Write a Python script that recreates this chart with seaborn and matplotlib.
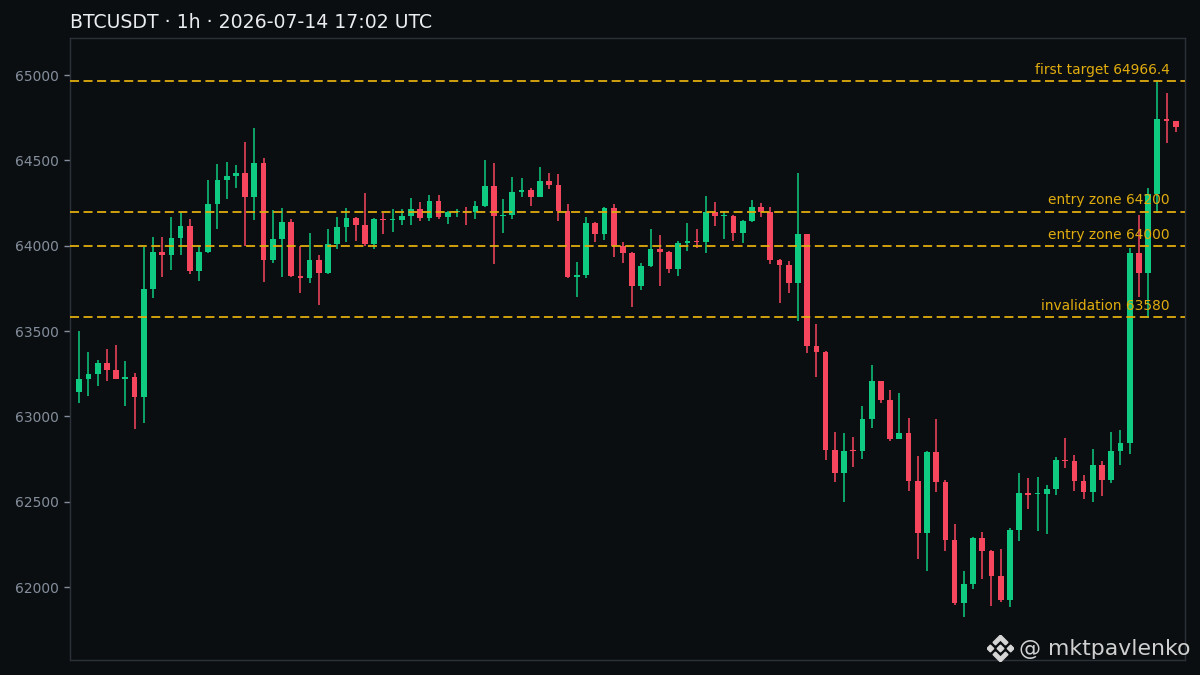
import numpy as np
import pandas as pd
import matplotlib
matplotlib.use("Agg")
import matplotlib.pyplot as plt
import seaborn as sns
from matplotlib.patches import Polygon

# hourly candles
opens = [63145, 63219, 63248, 63313, 63274, 63221, 63230, 63115, 63746, 63963,
         63947, 64045, 64115, 63853, 63963, 64244, 64385, 64408, 64426, 64285,
         64484, 63916, 64039, 64139, 63822, 63812, 63916, 63842, 64010, 64109,
         64162, 64121, 64012, 64156, 64150, 64150, 64174, 64215, 64162, 64262,
         64168, 64195, 64201, 64197, 64232, 64350, 64174, 64180, 64315, 64326,
         64287, 64379, 64357, 64203, 63818, 63828, 64133, 64070, 64221, 63998,
         63959, 63766, 63881, 63981, 63965, 63863, 64018, 64027, 64023, 64199,
         64174, 64176, 64076, 64145, 64227, 64199, 63918, 63889, 63783, 64068,
         63414, 63379, 62803, 62670, 62800, 62797, 62985, 63207, 63096, 62867,
         62903, 62623, 62319, 62791, 62617, 62276, 61908, 62018, 62287, 62213,
         62067, 61924, 62334, 62551, 62545, 62547, 62574, 62746, 62739, 62621,
         62559, 62715, 62629, 62797, 62846, 63959, 63842, 64303, 64740, 64730]
highs = [63498, 63375, 63330, 63393, 63416, 63322, 63252, 63994, 64049, 64049,
         64170, 64197, 64158, 64004, 64387, 64477, 64492, 64475, 64605, 64687,
         64512, 64209, 64219, 64156, 63998, 64072, 63943, 64096, 64166, 64219,
         64166, 64307, 64162, 64190, 64213, 64217, 64277, 64254, 64295, 64295,
         64201, 64213, 64225, 64262, 64500, 64483, 64272, 64400, 64395, 64336,
         64459, 64424, 64420, 64242, 63906, 64170, 64140, 64225, 64242, 64020,
         63961, 63900, 64096, 64061, 63968, 64025, 64131, 64096, 64289, 64258,
         64205, 64180, 64150, 64266, 64248, 64229, 63922, 63912, 64424, 64070,
         63539, 63381, 62906, 62901, 62877, 63063, 63299, 63210, 63152, 63135,
         62988, 62766, 62795, 62983, 62625, 62369, 62096, 62291, 62321, 62217,
         62221, 62344, 62666, 62637, 62643, 62600, 62764, 62871, 62772, 62655,
         62807, 62737, 62906, 62918, 63984, 64180, 64340, 64965, 64893, 64733]
lows = [63076, 63117, 63176, 63205, 63217, 63059, 62924, 62959, 63691, 63818,
        63857, 63943, 63832, 63795, 63959, 64096, 64271, 64336, 63998, 64150,
        63789, 63896, 63818, 63818, 63725, 63779, 63650, 63832, 63978, 64019,
        64025, 63998, 63979, 64067, 64078, 64119, 64119, 64147, 64147, 64154,
        64125, 64166, 64123, 64154, 64229, 63891, 64076, 64158, 64283, 64231,
        64283, 64334, 64143, 63813, 63697, 63809, 64023, 64033, 63936, 63897,
        63639, 63740, 63877, 63764, 63838, 63820, 63967, 63984, 63955, 64113,
        64037, 64025, 64014, 64139, 64170, 63891, 63662, 63721, 63561, 63373,
        63233, 62744, 62617, 62496, 62705, 62748, 62930, 63080, 62858, 62865,
        62565, 62162, 62096, 62555, 62209, 61897, 61823, 61987, 62045, 61891,
        61910, 61881, 62270, 62455, 62326, 62311, 62539, 62696, 62561, 62514,
        62498, 62533, 62610, 62713, 62777, 63697, 63578, 64190, 64600, 64668]
closes = [63219, 63248, 63313, 63274, 63219, 63230, 63115, 63746, 63963, 63947,
          64045, 64115, 63853, 63963, 64244, 64385, 64408, 64426, 64285, 64484,
          63916, 64039, 64139, 63822, 63812, 63916, 63842, 64010, 64109, 64162,
          64123, 64012, 64156, 64150, 64155, 64174, 64215, 64162, 64262, 64168,
          64197, 64199, 64197, 64232, 64350, 64174, 64180, 64315, 64326, 64287,
          64379, 64357, 64203, 63818, 63828, 64133, 64070, 64221, 63998, 63959,
          63766, 63881, 63981, 63965, 63863, 64016, 64027, 64023, 64199, 64176,
          64178, 64076, 64145, 64227, 64199, 63918, 63889, 63783, 64068, 63414,
          63379, 62803, 62670, 62797, 62795, 62985, 63207, 63096, 62867, 62903,
          62623, 62319, 62791, 62617, 62276, 61908, 62018, 62287, 62213, 62067,
          61924, 62334, 62551, 62541, 62550, 62574, 62744, 62740, 62623, 62559,
          62715, 62629, 62797, 62844, 63959, 63842, 64303, 64742, 64731, 64697]

level_values = [64966.4, 64200, 64000, 63580]
level_names = ["first target 64966.4", "entry zone 64200", "entry zone 64000", "invalidation 63580"]
y_ticks = [62000, 62500, 63000, 63500, 64000, 64500, 65000]
title = "BTCUSDT · 1h · 2026-07-14 17:02 UTC"
handle = "@ mktpavlenko"

BG = "#0b0e11"
UP = "#0ecb81"
DOWN = "#f6465d"
GOLD = "#e0ac0e"

df = pd.DataFrame({"open": opens, "high": highs, "low": lows, "close": closes})
df["i"] = np.arange(len(df))
df["up"] = df["close"] >= df["open"]
df["color"] = np.where(df["up"], UP, DOWN)
df["bottom"] = df[["open", "close"]].min(axis=1)
df["body"] = (df["close"] - df["open"]).abs().clip(lower=6)

sns.set_theme(style="dark", rc={"axes.facecolor": BG, "figure.facecolor": BG,
                                "axes.edgecolor": "#2b3139", "axes.grid": False})
plt.rcParams["font.family"] = ["DejaVu Sans"]

fig = plt.figure(figsize=(12, 6.75), dpi=100)
ax = fig.add_axes([70 / 1200, 15 / 675, 1115 / 1200, 622 / 675])

# wicks then bodies
ax.vlines(df["i"], df["low"], df["high"], colors=df["color"], linewidth=1.1, zorder=2)
ax.bar(df["i"], df["body"], bottom=df["bottom"], width=0.62, color=df["color"],
       linewidth=0, zorder=3)

for val, name in zip(level_values, level_names):
    ax.axhline(val, color=GOLD, linestyle=(0, (5, 2.5)), linewidth=1.3, zorder=4)
    ax.annotate(name, xy=(0.9865, val), xycoords=ax.get_yaxis_transform(),
                xytext=(0, 3), textcoords="offset points", ha="right", va="bottom",
                fontsize=9.9, color=GOLD, zorder=5)

ax.set_xlim(-1, 120)
ax.set_ylim(61573, 65217)
ax.set_yticks(y_ticks)
ax.set_yticklabels([str(t) for t in y_ticks])
ax.set_xticks([])
ax.tick_params(axis="y", colors="#848e9c", labelsize=10, length=4, width=1,
               left=True, direction="out", pad=4)
for sp in ax.spines.values():
    sp.set_color("#2b3139")
    sp.set_linewidth(1)

fig.text(70 / 1200, 1 - 22 / 675, title, ha="left", va="center", fontsize=13.6, color="#eaecef")

# watermark: small binance-like mark and handle
lax = fig.add_axes([987 / 1200, 13 / 675, 27 / 1200, 27 / 675])
lax.set_xlim(-1, 1)
lax.set_ylim(-1, 1)
lax.axis("off")
mark = "#d6d6d6"
for cx in [-0.75, 0, 0.75]:
    lax.add_patch(Polygon([(cx, 0.25), (cx + 0.25, 0), (cx, -0.25), (cx - 0.25, 0)], color=mark))
for s in [1, -1]:
    lax.add_patch(Polygon([(-0.55, 0.45 * s), (0, 1.0 * s), (0.55, 0.45 * s),
                           (0.37, 0.27 * s), (0, 0.64 * s), (-0.37, 0.27 * s)], color=mark))
fig.text(1019 / 1200, 1 - 649 / 675, handle, ha="left", va="center", fontsize=15.8, color="#d0d0d0")

fig.savefig("out.png", dpi=100, facecolor=BG)
